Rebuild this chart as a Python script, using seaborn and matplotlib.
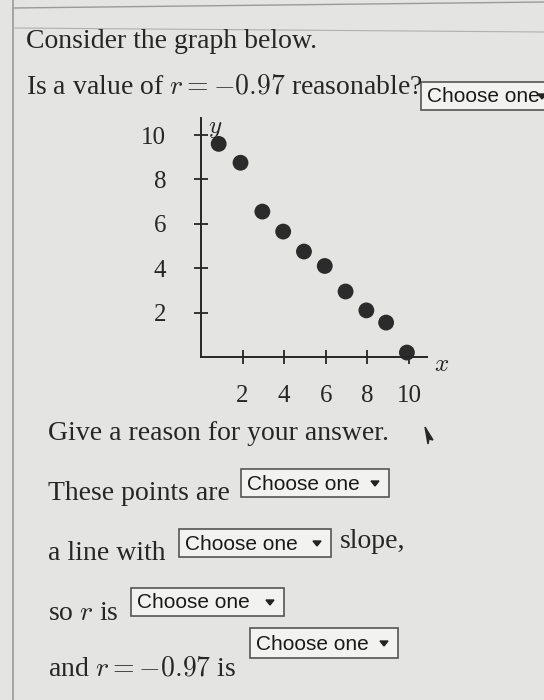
import matplotlib.pyplot as plt
import seaborn as sns
from matplotlib.patches import Rectangle, Polygon

sns.set_theme(style="white")
plt.rcParams["font.family"] = ["Liberation Serif", "DejaVu Serif"]
plt.rcParams["mathtext.fontset"] = "cm"

# data
x_vals = [0.85, 1.9, 2.95, 3.95, 4.95, 5.95, 6.95, 7.95, 8.9, 9.9]
y_vals = [9.6, 8.75, 6.55, 5.65, 4.75, 4.1, 2.95, 2.1, 1.55, 0.2]
x_ticks = [2, 4, 6, 8, 10]
y_ticks = [2, 4, 6, 8, 10]

W, H = 544, 700
BG = "#e4e4e2"
INK = "#262626"
fig = plt.figure(figsize=(W / 100, H / 100), dpi=100, facecolor=BG)

def fx(px):
    return px / W

def fy(py):
    return 1 - py / H

# page frame lines
fig.add_artist(plt.Line2D([fx(13), fx(13)], [fy(0), fy(700)], color="#9a9a9a", lw=1.2))
fig.add_artist(plt.Line2D([fx(13), fx(544)], [fy(8), fy(2)], color="#9a9a9a", lw=1.0))
fig.add_artist(plt.Line2D([fx(13), fx(544)], [fy(28), fy(32)], color="#b0b0b0", lw=0.8))

tk = dict(color=INK, fontsize=20, va="center", ha="left")
fig.text(fx(26), fy(42), "Consider the graph below.", **tk)
fig.text(fx(26), fy(87), r"Is a value of $r = -0.97$ reasonable?", **tk)
fig.text(fx(48), fy(434), "Give a reason for your answer.", **tk)
fig.text(fx(48), fy(494), "These points are", **tk)
fig.text(fx(48), fy(553), "a line with", **tk)
fig.text(fx(340), fy(541), "slope,", **tk)
fig.text(fx(48), fy(613), r"so $r$ is", **tk)
fig.text(fx(48), fy(669), r"and $r = -0.97$ is", **tk)

def dropdown(x0, y0, w, h):
    fig.add_artist(Rectangle((fx(x0), fy(y0 + h)), fx(w), h / H, transform=fig.transFigure,
                             facecolor="#f2f2f0", edgecolor="#555555", lw=1.2))
    fig.text(fx(x0 + 6), fy(y0 + h / 2 + 1), "Choose one", fontsize=15, va="center", ha="left",
             color="#1a1a1a", family=["Liberation Sans", "DejaVu Sans"])
    cx, cy = x0 + w - 14, y0 + h / 2
    fig.add_artist(Polygon([(fx(cx - 4), fy(cy - 2)), (fx(cx + 4), fy(cy - 2)), (fx(cx), fy(cy + 3))],
                           closed=True, transform=fig.transFigure, color="#222222"))

dropdown(421, 82, 135, 28)
dropdown(241, 469, 148, 28)
dropdown(179, 529, 152, 28)
dropdown(131, 588, 153, 28)
dropdown(250, 628, 148, 30)

# scatter plot
ax_l, ax_r, ax_b, ax_t = 201, 427, 357, 118
x_max = 10 * (ax_r - ax_l) / 208.0
y_max = 10 * (ax_b - ax_t) / 222.0
ax = fig.add_axes([fx(ax_l), fy(ax_b), fx(ax_r - ax_l), (ax_b - ax_t) / H])
ax.set_facecolor("none")
sns.scatterplot(x=x_vals, y=y_vals, ax=ax, s=130, color="#2b2b2b", edgecolor="none", clip_on=False)
ax.set_xlim(0, x_max)
ax.set_ylim(0, y_max)
for s in ["top", "right"]:
    ax.spines[s].set_visible(False)
for s in ["left", "bottom"]:
    ax.spines[s].set_color(INK)
    ax.spines[s].set_linewidth(1.4)
ax.set_xticks(x_ticks)
ax.set_yticks(y_ticks)
ax.set_xticklabels([str(t) for t in x_ticks])
ax.set_yticklabels([str(t) for t in y_ticks])
ax.tick_params(axis="x", bottom=True, direction="inout", length=10, width=1.3, pad=15,
               labelsize=18, colors=INK)
ax.tick_params(axis="y", left=True, direction="inout", length=10, width=1.3, pad=20,
               labelsize=18, colors=INK)
ax.text(1.03, -0.06, r"$x$", transform=ax.transAxes, fontsize=18, color=INK)
ax.text(0.03, 1.0, r"$y$", transform=ax.transAxes, fontsize=18, color=INK, va="top")

# cursor
fig.add_artist(Polygon([(fx(425), fy(427)), (fx(433), fy(440)), (fx(429), fy(439)), (fx(428), fy(444))],
                       closed=True, transform=fig.transFigure, color=INK))

fig.savefig("out.png", dpi=100, facecolor=BG)
